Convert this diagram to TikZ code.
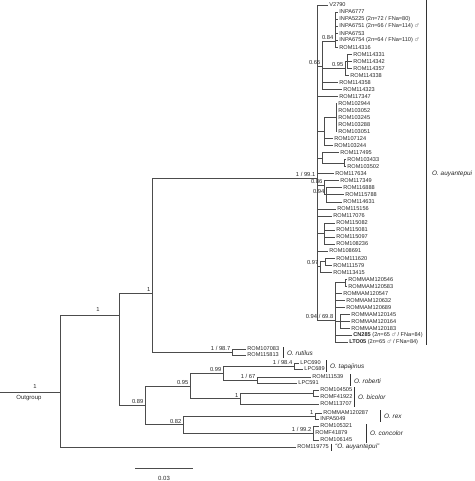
\documentclass[tikz,border=0pt]{standalone}
\usepackage{fontspec}
\setmainfont{Liberation Sans}
\newfontfamily\symf{DejaVu Sans}
\newcommand{\mymale}{{\symf\color{black!45}\fontsize{5}{5}\selectfont ♂}}
\newcommand{\itn}{\textit{n}}
\newcommand{\mkleaf}[4]{\coordinate (#1) at (#2,{5+7.03*#3}); \node[leaf] (#1t) at (#1) {#4};}
\newcommand{\mkleafy}[4]{\coordinate (#1) at (#2,#3); \node[leaf] (#1t) at (#1) {#4};}
\begin{document}
\begin{tikzpicture}[x=1pt,y=-1pt,
  br/.style={line width=0.65pt, draw=black!70},
  leaf/.style={anchor=west, inner sep=0pt, xshift=1.2pt, font=\fontsize{5.6}{6}\selectfont, text=black!85},
  support/.style={anchor=south east, inner sep=0pt, xshift=-1.5pt, yshift=1pt, font=\fontsize{5.8}{6}\selectfont, text=black!85},
  plainlab/.style={font=\fontsize{5.8}{6}\selectfont, inner sep=0pt, text=black!85},
  spname/.style={anchor=west, inner sep=0pt, font=\fontsize{6.4}{7}\selectfont\itshape, text=black!85},
  spbar/.style={line width=0.9pt, draw=black!80}]
\useasboundingbox (0,0) rectangle (474,481);

% ---------------- O. auyantepui clade leaves
\mkleaf{l0}{328}{0}{V2790}
\mkleaf{l1}{338}{1}{INPA6777}
\mkleaf{l2}{338}{2}{INPA5225 (2\itn=72 / FNa=80)}
\mkleaf{l3}{338}{3}{INPA6751 (2\itn=66 / FNa=114) \mymale}
\mkleaf{l4}{338}{4}{INPA6753}
\mkleaf{l5}{338}{5}{INPA6754 (2\itn=64 / FNa=110) \mymale}
\mkleaf{l6}{338}{6}{ROM114316}
\mkleaf{l7}{352}{7}{ROM114331}
\mkleaf{l8}{352}{8}{ROM114342}
\mkleaf{l9}{352}{9}{ROM114357}
\mkleaf{l10}{349}{10}{ROM114338}
\mkleaf{l11}{338}{11}{ROM114358}
\mkleaf{l12}{342}{12}{ROM114323}
\mkleaf{l13}{338}{13}{ROM117347}
\mkleaf{l14}{337}{14}{ROM102944}
\mkleaf{l15}{337}{15}{ROM103052}
\mkleaf{l16}{337}{16}{ROM103245}
\mkleaf{l17}{337}{17}{ROM103288}
\mkleaf{l18}{337}{18}{ROM103051}
\mkleaf{l19}{333}{19}{ROM107124}
\mkleaf{l20}{333}{20}{ROM103244}
\mkleaf{l21}{339}{21}{ROM117495}
\mkleaf{l22}{346}{22}{ROM103433}
\mkleaf{l23}{346}{23}{ROM103502}
\mkleaf{l24}{334}{24}{ROM117634}
\mkleaf{l25}{339}{25}{ROM117349}
\mkleaf{l26}{342}{26}{ROM116888}
\mkleaf{l27}{344}{27}{ROM115788}
\mkleaf{l28}{342}{28}{ROM114631}
\mkleaf{l29}{336}{29}{ROM115156}
\mkleaf{l30}{332}{30}{ROM117076}
\mkleaf{l31}{335}{31}{ROM115082}
\mkleaf{l32}{335}{32}{ROM115081}
\mkleaf{l33}{335}{33}{ROM115097}
\mkleaf{l34}{335}{34}{ROM108236}
\mkleaf{l35}{328}{35}{ROM108691}
\mkleaf{l36}{335}{36}{ROM111620}
\mkleaf{l37}{332}{37}{ROM111579}
\mkleaf{l38}{332}{38}{ROM113415}
\mkleaf{l39}{347}{39}{ROMMAM120546}
\mkleaf{l40}{347}{40}{ROMMAM120583}
\mkleaf{l41}{342}{41}{ROMMAM120547}
\mkleaf{l42}{345}{42}{ROMMAM120632}
\mkleaf{l43}{345}{43}{ROMMAM120689}
\mkleaf{l44}{350}{44}{ROMMAM120145}
\mkleaf{l45}{350}{45}{ROMMAM120164}
\mkleaf{l46}{350}{46}{ROMMAM120183}
\mkleaf{l47}{352}{47}{\textbf{CN285} (2\itn=65 \mymale{} / FNa=84)}
\mkleaf{l48}{348}{48}{\textbf{LTO05} (2\itn=65 \mymale{} / FNa=84)}

% ---------------- other leaves
\mkleafy{r107083}{246}{349}{ROM107083}
\mkleafy{r115813}{246}{355}{ROM115813}
\mkleafy{lpc690}{299}{363}{LPC690}
\mkleafy{lpc689}{303}{369}{LPC689}
\mkleafy{r111539}{311}{377}{ROM111539}
\mkleafy{lpc591}{297}{383}{LPC591}
\mkleafy{r104505}{319}{390}{ROM104505}
\mkleafy{f41922}{319}{396.5}{ROMF41922}
\mkleafy{r113707}{319}{404}{ROM113707}
\mkleafy{mam287}{322}{413}{ROMMAM120287}
\mkleafy{inpa5049}{319}{419}{INPA5049}
\mkleafy{r105321}{319}{426}{ROM105321}
\mkleafy{f41879}{314}{433}{ROMF41879}
\mkleafy{r106145}{319}{440}{ROM106145}
\mkleafy{r119775}{296}{447}{ROM119775}
\coordinate (og) at (0,392);

% ---------------- internal nodes
\coordinate (N84) at (335,41);
\coordinate (P7) at (347,61.2);
\coordinate (N95) at (345,68);
\coordinate (N65) at (322,66);
\coordinate (NP2) at (336,117.5);
\coordinate (NB) at (324,131);
\coordinate (C2) at (344,163.2);
\coordinate (NC) at (322,158);
\coordinate (N94) at (326,194.8);
\coordinate (N86) at (324,185);
\coordinate (ND) at (324,233.5);
\coordinate (C3) at (325,261.6);
\coordinate (N97) at (320,266);
\coordinate (C4) at (345,282.7);
\coordinate (P4) at (340,321.4);
\coordinate (M) at (335,320);
\coordinate (R) at (317,178);
\coordinate (Ru) at (232,352);
\coordinate (D) at (152,293);
\coordinate (T) at (294,366);
\coordinate (Rb) at (257,380);
\coordinate (G) at (223,373);
\coordinate (Bc) at (313,393);
\coordinate (B) at (240,398.5);
\coordinate (F) at (190,386);
\coordinate (Rx) at (315,416);
\coordinate (Cc) at (313,433);
\coordinate (H) at (183,424.5);
\coordinate (E) at (145,405);
\coordinate (C) at (119,315);
\coordinate (Root) at (60,392);

% ---------------- branches
\foreach \c in {l1,l2,l3,l4,l5,l6} \draw[br] (N84) |- (\c);
\foreach \c in {l7,l8,l9} \draw[br] (P7) |- (\c);
\foreach \c in {P7,l10} \draw[br] (N95) |- (\c);
\foreach \c in {N84,N95,l11,l12} \draw[br] (N65) |- (\c);
\foreach \c in {l14,l15,l16,l17,l18} \draw[br] (NP2) |- (\c);
\foreach \c in {NP2,l19,l20} \draw[br] (NB) |- (\c);
\foreach \c in {l22,l23} \draw[br] (C2) |- (\c);
\foreach \c in {l21,C2} \draw[br] (NC) |- (\c);
\foreach \c in {l26,l27,l28} \draw[br] (N94) |- (\c);
\foreach \c in {l25,N94} \draw[br] (N86) |- (\c);
\foreach \c in {l31,l32,l33,l34} \draw[br] (ND) |- (\c);
\foreach \c in {l36,l37} \draw[br] (C3) |- (\c);
\foreach \c in {C3,l38} \draw[br] (N97) |- (\c);
\foreach \c in {l39,l40} \draw[br] (C4) |- (\c);
\foreach \c in {l44,l45,l46} \draw[br] (P4) |- (\c);
\foreach \c in {C4,l41,l42,l43,P4,l47,l48} \draw[br] (M) |- (\c);
\foreach \c in {l0,N65,l13,NB,NC,l24,N86,l29,l30,ND,l35,N97,M} \draw[br] (R) |- (\c);
\foreach \c in {r107083,r115813} \draw[br] (Ru) |- (\c);
\foreach \c in {R,Ru} \draw[br] (D) |- (\c);
\foreach \c in {lpc690,lpc689} \draw[br] (T) |- (\c);
\foreach \c in {r111539,lpc591} \draw[br] (Rb) |- (\c);
\foreach \c in {T,Rb} \draw[br] (G) |- (\c);
\foreach \c in {r104505,f41922} \draw[br] (Bc) |- (\c);
\foreach \c in {Bc,r113707} \draw[br] (B) |- (\c);
\foreach \c in {G,B} \draw[br] (F) |- (\c);
\foreach \c in {mam287,inpa5049} \draw[br] (Rx) |- (\c);
\foreach \c in {r105321,f41879,r106145} \draw[br] (Cc) |- (\c);
\foreach \c in {Rx,Cc} \draw[br] (H) |- (\c);
\foreach \c in {F,H} \draw[br] (E) |- (\c);
\foreach \c in {D,E} \draw[br] (C) |- (\c);
\foreach \c in {C,r119775} \draw[br] (Root) |- (\c);
\draw[br] (og) -- (Root);

% ---------------- support values
\node[support] (sN84) at (N84) {0.84};
\node[support] (sN65) at (N65) {0.65};
\node[support] (sN95) at (N95) {0.95};
\node[support] (sN86) at (N86) {0.86};
\node[support] (sN94) at (N94) {0.94};
\node[support] (sN97) at (N97) {0.97};
\node[support] (sM) at (M) {0.94 / 69.8};
\node[support] (sR) at (R) {1 / 99.1};
\node[support] (sRu) at (Ru) {1 / 98.7};
\node[support] (sD) at (D) {1};
\node[support] (sT) at (T) {1 / 98.4};
\node[support] (sRb) at (Rb) {1 / 67};
\node[support] (sG) at (G) {0.99};
\node[support] (sB) at (B) {1};
\node[support] (sF) at (F) {0.95};
\node[support] (sRx) at (Rx) {1};
\node[support] (sCc) at (Cc) {1 / 99.2};
\node[support] (sH) at (H) {0.82};
\node[support] (sE) at (E) {0.89};
\node[plainlab] (sC) at (98,310) {1};
\node[plainlab] (sOG) at (35,387) {1};
\node[font=\fontsize{6}{7}\selectfont, inner sep=0pt, text=black!85] (ogl) at (29,398) {Outgroup};

% ---------------- species bars and names
\draw[spbar] (426,0.5) -- (426,345);
\node[spname] (n1) at (432,174) {O. auyantepui};
\draw[spbar] (283,347) -- (283,358);
\node[spname] (n2) at (287,353) {O. rutilus};
\draw[spbar] (326,360) -- (326,372);
\node[spname] (n3) at (330,367) {O. tapajinus};
\draw[spbar] (350,374) -- (350,386);
\node[spname] (n4) at (354,381) {O. roberti};
\draw[spbar] (354,387) -- (354,407);
\node[spname] (n5) at (358,397) {O. bicolor};
\draw[spbar] (380,410) -- (380,422);
\node[spname] (n6) at (384,416) {O. rex};
\draw[spbar] (366,424) -- (366,443);
\node[spname] (n7) at (370,433) {O. concolor};
\draw[spbar] (331,443.5) -- (331,450.5);
\node[spname] (n8) at (335,447) {“O. auyantepui”};

% ---------------- scale bar
\coordinate (sb1) at (135,468);
\coordinate (sb2) at (193,468);
\draw[br] (sb1) -- (sb2);
\node[font=\fontsize{6}{7}\selectfont, inner sep=0pt, text=black!85] (sbl) at (164,478) {0.03};
\end{tikzpicture}
\end{document}
